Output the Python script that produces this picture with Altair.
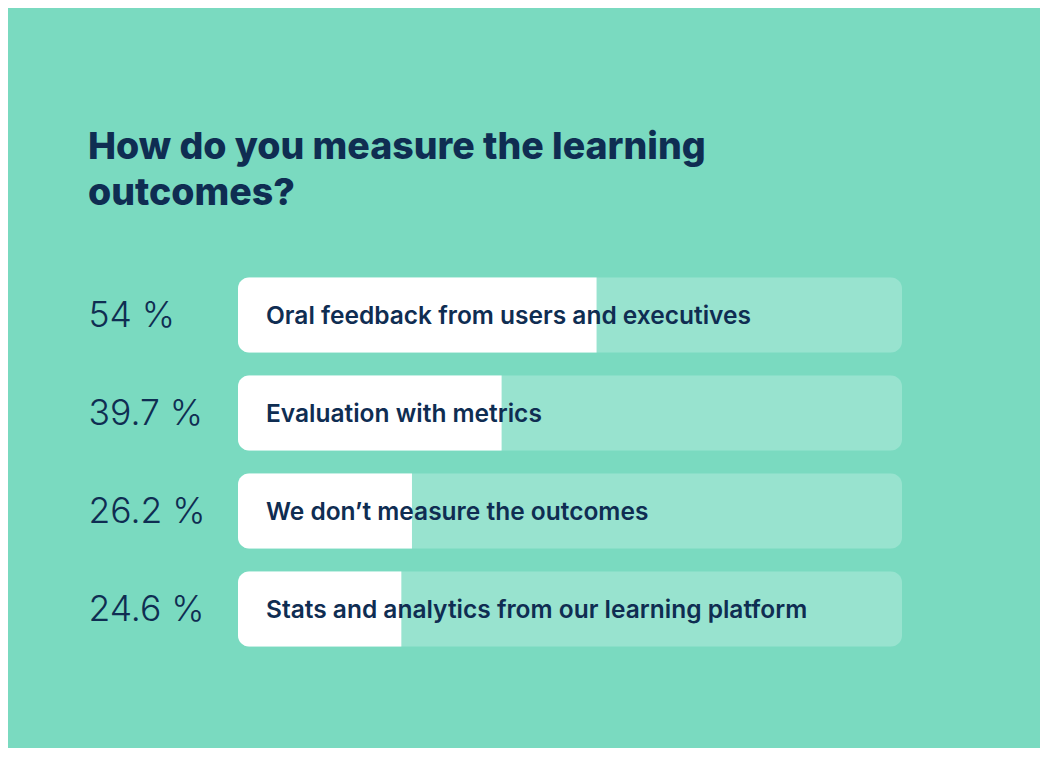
import altair as alt
import pandas as pd

pct_labels = ["54 %", "39.7 %", "26.2 %", "24.6 %"]
values = [54, 39.7, 26.2, 24.6]
answers = [
    "Oral feedback from users and executives",
    "Evaluation with metrics",
    "We don\u2019t measure the outcomes",
    "Stats and analytics from our learning platform",
]

df = pd.DataFrame({"pct": pct_labels, "value": values, "answer": answers})
df["start"] = 0
df["full"] = 100

NAVY = "#0f2d52"
BG = "#7adac0"
TRACK = "#98e3cf"
FONT = "Inter"

yenc = alt.Y(
    "pct:N",
    sort=pct_labels,
    scale=alt.Scale(paddingInner=0.235, paddingOuter=0.1175),
    axis=alt.Axis(
        title=None, domain=False, ticks=False, grid=False,
        labelAlign="left", labelPadding=150, labelBaseline="middle",
        labelFont=FONT, labelFontSize=35.5, labelFontWeight=300,
        labelColor=NAVY, labelOffset=1,
    ),
)
xscale = alt.Scale(domain=[0, 100], nice=False, zero=True)

base = alt.Chart(df)

track = base.mark_bar(color=TRACK, cornerRadius=11).encode(
    x=alt.X("start:Q", scale=xscale, axis=None),
    x2="full:Q",
    y=yenc,
)
fill = base.mark_bar(color="white", cornerRadiusTopLeft=11, cornerRadiusBottomLeft=11).encode(
    x=alt.X("start:Q", scale=xscale, axis=None),
    x2="value:Q",
    y=yenc,
)
text = base.mark_text(
    align="left", baseline="middle", dx=28, dy=2, font=FONT, fontSize=24.5,
    fontWeight=600, color=NAVY,
).encode(
    x=alt.X("start:Q", scale=xscale, axis=None),
    y=yenc,
    text="answer:N",
)

chart = (
    alt.layer(track, fill, text)
    .properties(
        width=664,
        height=392,
        autosize=alt.AutoSizeParams(type="none"),
        padding={"left": 230, "top": 258, "right": 138, "bottom": 90},
        background=BG,
        title=alt.TitleParams(
            ["How do you measure the learning", "outcomes?"],
            anchor="start", dx=-150, offset=54,
            font=FONT, fontSize=37.5, fontWeight=800, color=NAVY,
            lineHeight=46, frame="group",
        ),
    )
    .configure_view(stroke=None)
)

chart.save("out.html", embed_options={"renderer": "svg", "actions": False})
